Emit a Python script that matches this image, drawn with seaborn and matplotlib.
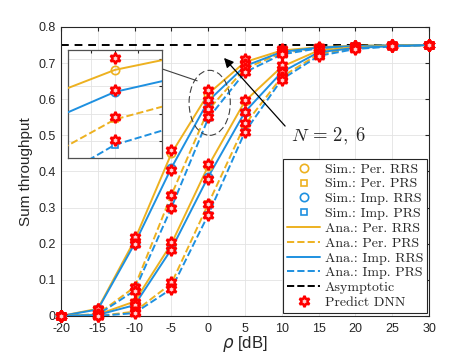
import numpy as np
import pandas as pd
import matplotlib
matplotlib.use("Agg")
import matplotlib.pyplot as plt
from matplotlib.lines import Line2D
from matplotlib.patches import Ellipse
import seaborn as sns

rho_db = [-20, -15, -10, -5, 0, 5, 10, 15, 20, 25, 30]
asymptote = 0.75

# left group of curves
per_rrs_a = [0, 0.020, 0.210, 0.450, 0.615, 0.703, 0.735, 0.744, 0.748, 0.749, 0.75]
imp_rrs_a = [0, 0.018, 0.200, 0.410, 0.595, 0.692, 0.731, 0.743, 0.747, 0.749, 0.75]
per_prs_a = [0, 0.005, 0.080, 0.335, 0.570, 0.685, 0.728, 0.742, 0.747, 0.749, 0.75]
imp_prs_a = [0, 0.004, 0.070, 0.300, 0.547, 0.675, 0.724, 0.741, 0.746, 0.749, 0.75]
# right group of curves
per_rrs_b = [0, 0.004, 0.040, 0.200, 0.415, 0.595, 0.690, 0.735, 0.744, 0.748, 0.75]
imp_rrs_b = [0, 0.003, 0.030, 0.185, 0.385, 0.565, 0.675, 0.730, 0.742, 0.747, 0.75]
per_prs_b = [0, 0.000, 0.012, 0.090, 0.310, 0.530, 0.662, 0.725, 0.741, 0.747, 0.75]
imp_prs_b = [0, 0.000, 0.008, 0.075, 0.280, 0.510, 0.655, 0.720, 0.739, 0.746, 0.75]

# DNN predictions
dnn_per_rrs_a = [0, 0.020, 0.220, 0.460, 0.626, 0.712, 0.740, 0.745, 0.748, 0.749, 0.75]
dnn_imp_rrs_a = [0, 0.018, 0.200, 0.405, 0.597, 0.697, 0.733, 0.743, 0.747, 0.749, 0.75]
dnn_per_prs_a = [0, 0.005, 0.080, 0.335, 0.572, 0.687, 0.729, 0.742, 0.747, 0.749, 0.75]
dnn_imp_prs_a = [0, 0.004, 0.070, 0.300, 0.551, 0.676, 0.725, 0.741, 0.746, 0.749, 0.75]
dnn_per_rrs_b = [0, 0.004, 0.040, 0.205, 0.420, 0.598, 0.695, 0.738, 0.745, 0.748, 0.75]
dnn_imp_rrs_b = [0, 0.003, 0.030, 0.183, 0.378, 0.565, 0.676, 0.730, 0.742, 0.747, 0.75]
dnn_per_prs_b = [0, 0.000, 0.012, 0.094, 0.310, 0.534, 0.662, 0.725, 0.741, 0.747, 0.75]
dnn_imp_prs_b = [0, 0.000, 0.008, 0.075, 0.280, 0.510, 0.654, 0.720, 0.739, 0.746, 0.75]

ORANGE = "#EDB120"
BLUE = "#1E90E0"

sns.set_style("whitegrid")
plt.rcParams["font.family"] = ["Liberation Sans", "DejaVu Sans"]
plt.rcParams["axes.unicode_minus"] = False

series = [
    (per_rrs_a, ORANGE, "-", "o"), (per_prs_a, ORANGE, "--", "s"),
    (imp_rrs_a, BLUE, "-", "o"), (imp_prs_a, BLUE, "--", "s"),
    (per_rrs_b, ORANGE, "-", "o"), (per_prs_b, ORANGE, "--", "s"),
    (imp_rrs_b, BLUE, "-", "o"), (imp_prs_b, BLUE, "--", "s"),
]
dnn = [dnn_per_rrs_a, dnn_imp_rrs_a, dnn_per_prs_a, dnn_imp_prs_a,
       dnn_per_rrs_b, dnn_imp_rrs_b, dnn_per_prs_b, dnn_imp_prs_b]

star = (6, 1, 0)


def draw(ax, xlim, ylim, clip):
    for vals, c, ls, mk in series:
        sns.lineplot(x=rho_db, y=vals, ax=ax, color=c, linestyle=ls, lw=1.4, zorder=3)
        sns.lineplot(x=rho_db, y=vals, ax=ax, color=c, linestyle="", marker=mk,
                     markersize=6 if mk == "o" else 5, markerfacecolor="none",
                     markeredgecolor=c, markeredgewidth=1.2, zorder=4, clip_on=clip)
    for vals in dnn:
        sns.lineplot(x=rho_db, y=vals, ax=ax, color="red", linestyle="", marker=star,
                     markersize=8, markerfacecolor="#ffd0d0", markeredgecolor="red",
                     markeredgewidth=1.8, zorder=5, clip_on=clip)
    ax.set_xlim(*xlim)
    ax.set_ylim(*ylim)


fig = plt.figure(figsize=(4.74, 3.55), dpi=100)
ax = fig.add_axes([0.1287, 0.1099, 0.7764, 0.8141])
ax.axhline(asymptote, color="black", ls=(0, (4, 3)), lw=1.4, zorder=2)
draw(ax, (-20, 30), (0, 0.8), False)
ax.set_xticks(range(-20, 31, 5))
ax.set_yticks(np.arange(0, 0.81, 0.1))
ax.set_yticklabels(["0", "0.1", "0.2", "0.3", "0.4", "0.5", "0.6", "0.7", "0.8"])
ax.tick_params(direction="in", length=3, labelsize=9, colors="#262626",
               top=True, right=True)
ax.tick_params(axis="x", pad=5)
ax.tick_params(axis="y", pad=4)
ax.grid(color="#e3e3e3", lw=0.6)
for s in ax.spines.values():
    s.set_color("#262626")
    s.set_linewidth(0.8)
ax.set_xlabel(r"$\rho$ [dB]", fontsize=12, labelpad=-1)
ax.set_ylabel("Sum throughput", fontsize=11, labelpad=4)

# zoom region marker
ax.add_patch(Ellipse((0.2, 0.59), 5.6, 0.18, fill=False, ls=(0, (6, 3)), ec="#404040", lw=0.8, zorder=6))
ax.plot([-6.28, -1.5], [0.684, 0.651], color="#404040", lw=0.8, zorder=6)
ax.annotate("", xy=(1.9, 0.72), xytext=(10.7, 0.52),
            arrowprops=dict(arrowstyle="-|>", color="black", lw=0.9, mutation_scale=14), zorder=7)
ax.text(11.2, 0.497, r"$N\,=\,2,\;6$", fontsize=13.5, ha="left", va="center", math_fontfamily="cm")

# legend
handles = [
    Line2D([], [], ls="", marker="o", mfc="none", mec=ORANGE, mew=1.2, ms=6),
    Line2D([], [], ls="", marker="s", mfc="none", mec=ORANGE, mew=1.2, ms=5),
    Line2D([], [], ls="", marker="o", mfc="none", mec=BLUE, mew=1.2, ms=6),
    Line2D([], [], ls="", marker="s", mfc="none", mec=BLUE, mew=1.2, ms=5),
    Line2D([], [], color=ORANGE, ls="-", lw=1.4),
    Line2D([], [], color=ORANGE, ls="--", lw=1.4),
    Line2D([], [], color=BLUE, ls="-", lw=1.4),
    Line2D([], [], color=BLUE, ls="--", lw=1.4),
    Line2D([], [], color="black", ls="--", lw=1.4),
    Line2D([], [], ls="", marker=star, mfc="#ffd0d0", mec="red", mew=1.8, ms=8),
]
labels = ["Sim.: Per. RRS", "Sim.: Per. PRS", "Sim.: Imp. RRS", "Sim.: Imp. PRS",
          "Ana.: Per. RRS", "Ana.: Per. PRS", "Ana.: Imp. RRS", "Ana.: Imp. PRS",
          "Asymptotic", "Predict DNN"]
leg = ax.legend(handles, labels, loc="lower right", bbox_to_anchor=(0.995, 0.01),
                borderaxespad=0, prop={"family": "cmr10", "size": 10}, labelspacing=0.15,
                handlelength=2.4, handletextpad=0.3, borderpad=0.3, fancybox=False,
                framealpha=1, edgecolor="#262626")
leg.get_frame().set_linewidth(0.8)
leg.set_zorder(10)

# inset
axin = fig.add_axes([0.1435, 0.555, 0.198, 0.304])
draw(axin, (-0.5, 0.5), (0.535, 0.633), True)
axin.set_xticks([-0.25, 0, 0.25])
axin.set_yticks([0.55, 0.575, 0.6, 0.625])
axin.tick_params(direction="in", length=2, labelleft=False, labelbottom=False,
                 top=True, right=True)
axin.grid(color="#e3e3e3", lw=0.6)
for s in axin.spines.values():
    s.set_color("#505050")
    s.set_linewidth(0.9)
axin.set_xlabel("")
axin.set_ylabel("")

fig.savefig("out.png", dpi=100)
